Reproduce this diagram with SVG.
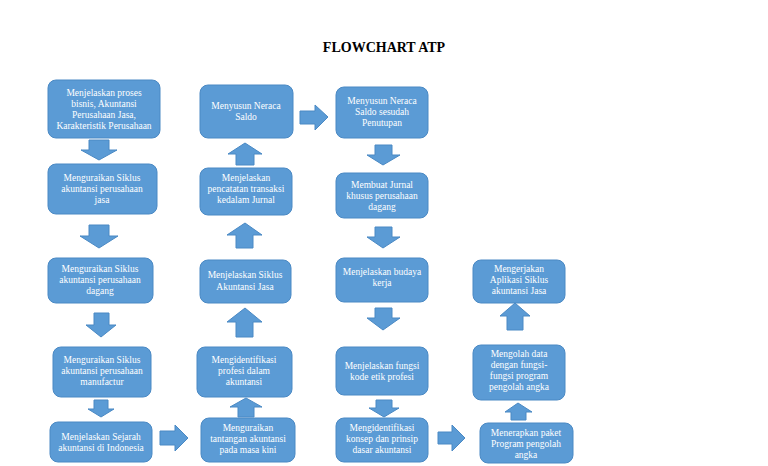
<svg xmlns="http://www.w3.org/2000/svg" width="768" height="466" viewBox="0 0 768 466">
<style>
.b{fill:#5b9bd5;stroke:#4a89c4;stroke-width:1}
.a{fill:#5b9bd5;stroke:#4a89c4;stroke-width:1}
text{font-family:"Liberation Serif",serif;font-size:9.5px;fill:#fff;text-anchor:middle}
.t{font-size:14px;font-weight:bold;fill:#000}
</style>
<rect width="768" height="466" fill="#fff"/>
<text class="t" x="384" y="52">FLOWCHART ATP</text>
<g id="connectors">
<path class="a" d="M89,140H109V150H117L99,160L81,150H89Z"/>
<path class="a" d="M89,225H109V236H118L99,248L80,236H89Z"/>
<path class="a" d="M94,313H109V325H116L101,337L86,325H94Z"/>
<path class="a" d="M94,400H108V409H114L101,417L88,409H94Z"/>
<path class="a" d="M160,431H175V425L188,438L175,451V445H160Z"/>
<path class="a" d="M236,165H254V154H262L245,143L228,154H236Z"/>
<path class="a" d="M236,248H253V235H262L245,223L227,235H236Z"/>
<path class="a" d="M236,337H253V322H262L245,308L227,322H236Z"/>
<path class="a" d="M238,417H254V407H262L246,398L230,407H238Z"/>
<path class="a" d="M300,111H315V105L328,117L315,130V124H300Z"/>
<path class="a" d="M375,145H392V155H400L383,165L367,155H375Z"/>
<path class="a" d="M375,227H392V237H400L383,248L367,237H375Z"/>
<path class="a" d="M375,308H392V318H400L383,330L367,318H375Z"/>
<path class="a" d="M376,400H392V408H399L384,417L369,408H376Z"/>
<path class="a" d="M438,432H452V425L465,438L452,451V444H438Z"/>
<path class="a" d="M507,330H523V316H530L515,303L500,316H507Z"/>
<path class="a" d="M511,420H526V412H532L518,403L505,412H511Z"/>
</g>
<g id="n1"><rect class="b" x="48" y="80" width="112" height="58" rx="8"/><text x="104" y="96">Menjelaskan proses</text><text x="104" y="107">bisnis, Akuntansi</text><text x="104" y="118">Perusahaan Jasa,</text><text x="104" y="129">Karakteristik Perusahaan</text></g>
<g id="n2"><rect class="b" x="48" y="164" width="109" height="50" rx="8"/><text x="102" y="181">Menguraikan Siklus</text><text x="102" y="192">akuntansi perusahaan</text><text x="102" y="203">jasa</text></g>
<g id="n3"><rect class="b" x="48" y="258" width="105" height="45" rx="8"/><text x="100" y="272">Menguraikan Siklus</text><text x="100" y="283">akuntansi perusahaan</text><text x="100" y="294">dagang</text></g>
<g id="n4"><rect class="b" x="53" y="347" width="98" height="50" rx="8"/><text x="102" y="363">Menguraikan Siklus</text><text x="102" y="374">akuntansi perusahaan</text><text x="102" y="385">manufactur</text></g>
<g id="n5"><rect class="b" x="50" y="422" width="102" height="40" rx="8"/><text x="101" y="440">Menjelaskan Sejarah</text><text x="101" y="451">akuntansi di Indonesia</text></g>
<g id="n6"><rect class="b" x="201" y="418" width="94" height="44" rx="8"/><text x="248" y="431">Menguraikan</text><text x="248" y="442">tantangan akuntansi</text><text x="248" y="453">pada masa kini</text></g>
<g id="n7"><rect class="b" x="197" y="347" width="95" height="50" rx="8"/><text x="244" y="363">Mengidentifikasi</text><text x="244" y="374">profesi dalam</text><text x="244" y="385">akuntansi</text></g>
<g id="n8"><rect class="b" x="200" y="260" width="91" height="43" rx="8"/><text x="245" y="278">Menjelaskan Siklus</text><text x="245" y="290">Akuntansi Jasa</text></g>
<g id="n9"><rect class="b" x="200" y="168" width="92" height="47" rx="8"/><text x="246" y="181">Menjelaskan</text><text x="246" y="192">pencatatan transaksi</text><text x="246" y="203">kedalam Jurnal</text></g>
<g id="n10"><rect class="b" x="200" y="85" width="93" height="53" rx="8"/><text x="246" y="109">Menyusun Neraca</text><text x="246" y="120">Saldo</text></g>
<g id="n11"><rect class="b" x="336" y="87" width="92" height="51" rx="8"/><text x="382" y="104">Menyusun Neraca</text><text x="382" y="115">Saldo sesudah</text><text x="382" y="126">Penutupan</text></g>
<g id="n12"><rect class="b" x="336" y="173" width="92" height="45" rx="8"/><text x="382" y="188">Membuat Jurnal</text><text x="382" y="199">khusus perusahaan</text><text x="382" y="210">dagang</text></g>
<g id="n13"><rect class="b" x="336" y="258" width="92" height="44" rx="8"/><text x="382" y="275">Menjelaskan budaya</text><text x="382" y="286">kerja</text></g>
<g id="n14"><rect class="b" x="336" y="347" width="92" height="48" rx="8"/><text x="382" y="369">Menjelaskan fungsi</text><text x="382" y="380">kode etik profesi</text></g>
<g id="n15"><rect class="b" x="336" y="418" width="92" height="44" rx="8"/><text x="382" y="431">Mengidentifikasi</text><text x="382" y="442">konsep dan prinsip</text><text x="382" y="453">dasar akuntansi</text></g>
<g id="n16"><rect class="b" x="480" y="423" width="93" height="40" rx="8"/><text x="526" y="436">Menerapkan paket</text><text x="526" y="447">Program pengolah</text><text x="526" y="458">angka</text></g>
<g id="n17"><rect class="b" x="473" y="345" width="92" height="55" rx="8"/><text x="519" y="357">Mengolah data</text><text x="519" y="368">dengan fungsi-</text><text x="519" y="379">fungsi program</text><text x="519" y="390">pengolah angka</text></g>
<g id="n18"><rect class="b" x="473" y="260" width="92" height="43" rx="8"/><text x="519" y="272">Mengerjakan</text><text x="519" y="283">Aplikasi Siklus</text><text x="519" y="294">akuntansi Jasa</text></g>
</svg>
